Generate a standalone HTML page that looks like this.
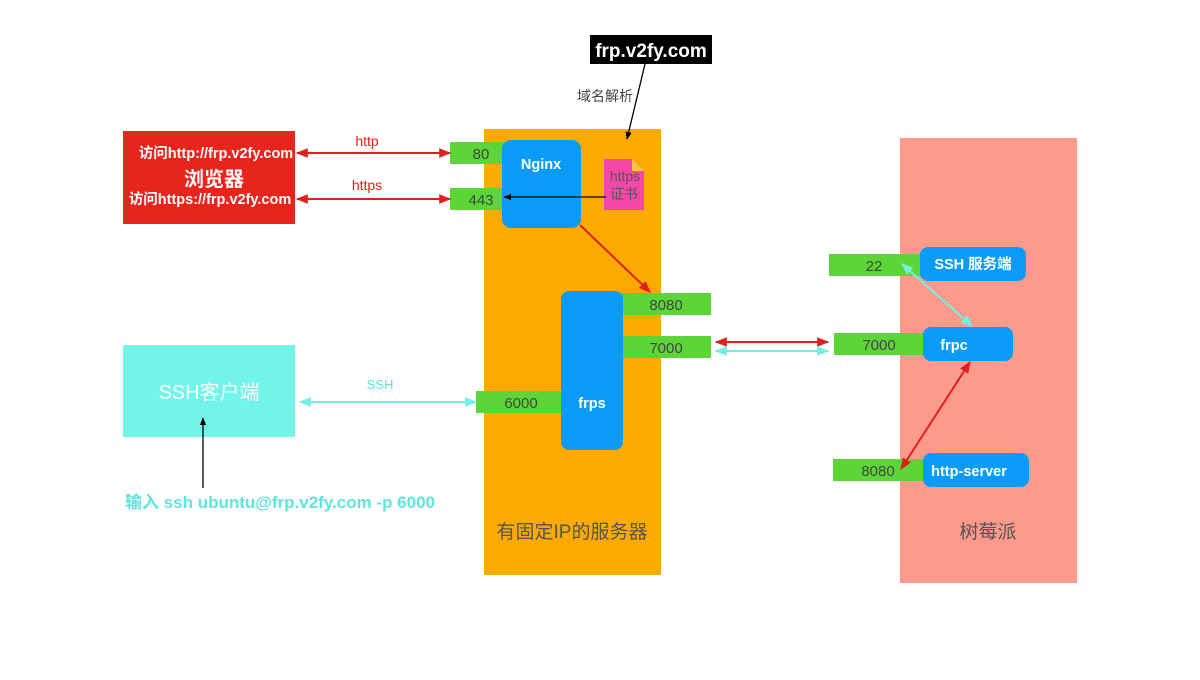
<!DOCTYPE html>
<html><head><meta charset="utf-8"><style>
body{margin:0;background:#fff;}
svg text{font-family:"Liberation Sans","Noto Sans CJK SC",sans-serif;}
</style></head><body>
<svg width="1200" height="675" viewBox="0 0 1200 675" xmlns="http://www.w3.org/2000/svg">
<defs>
<marker id="ar" viewBox="0 0 10 10" refX="9" refY="5" markerWidth="6" markerHeight="6" orient="auto-start-reverse"><path d="M0,1 L10,5 L0,9 z" fill="#e0201a"/></marker>
<marker id="ac" viewBox="0 0 10 10" refX="9" refY="5" markerWidth="6" markerHeight="6" orient="auto-start-reverse"><path d="M0,1 L10,5 L0,9 z" fill="#72f0e4"/></marker>
<marker id="ak" viewBox="0 0 10 10" refX="9" refY="5" markerWidth="6" markerHeight="6" orient="auto-start-reverse"><path d="M0,1 L10,5 L0,9 z" fill="#000"/></marker>
</defs>
<rect x="484" y="129" width="177" height="446" fill="#fdaa00"/>
<rect x="900" y="138" width="177" height="445" fill="#fe9a8c"/>
<text x="572" y="538" font-size="19" fill="#555" text-anchor="middle">有固定IP的服务器</text>
<text x="988" y="538" font-size="19" fill="#555" text-anchor="middle">树莓派</text>
<rect x="123" y="131" width="172" height="93" fill="#e8251c"/>
<text x="216" y="158" font-size="14.5" fill="#fff" text-anchor="middle" font-weight="bold">访问http://frp.v2fy.com</text>
<text x="214" y="186" font-size="20" fill="#fff" text-anchor="middle" font-weight="bold">浏览器</text>
<text x="210" y="204" font-size="14.5" fill="#fff" text-anchor="middle" font-weight="bold">访问https://frp.v2fy.com</text>
<rect x="123" y="345" width="172" height="92" fill="#72f5e8"/>
<text x="209" y="399" font-size="20" fill="#fff" text-anchor="middle">SSH客户端</text>
<text x="280" y="508" font-size="17" fill="#5ee6dc" text-anchor="middle" font-weight="bold">输入 ssh ubuntu@frp.v2fy.com -p 6000</text>
<line x1="203" y1="488" x2="203" y2="418" stroke="#000" stroke-width="1.3" marker-end="url(#ak)"/>
<rect x="590" y="35" width="122" height="29" fill="#000"/>
<text x="651" y="57" font-size="19" fill="#fff" text-anchor="middle" font-weight="bold">frp.v2fy.com</text>
<text x="605" y="101" font-size="14" fill="#444" text-anchor="middle">域名解析</text>
<line x1="645" y1="64" x2="627" y2="139" stroke="#000" stroke-width="1.3" marker-end="url(#ak)"/>
<g fill="#5cd637">
<rect x="450" y="142" width="55" height="22"/>
<rect x="450" y="188" width="55" height="22"/>
<rect x="621" y="293" width="90" height="22"/>
<rect x="621" y="336" width="90" height="22"/>
<rect x="476" y="391" width="90" height="22"/>
<rect x="829" y="254" width="95" height="22"/>
<rect x="834" y="333" width="95" height="22"/>
<rect x="833" y="459" width="95" height="22"/>
</g>
<g font-size="15" fill="#444" text-anchor="middle">
<text x="481" y="159">80</text>
<text x="481" y="205">443</text>
<text x="666" y="310">8080</text>
<text x="666" y="353">7000</text>
<text x="521" y="408">6000</text>
<text x="874" y="271">22</text>
<text x="879" y="350">7000</text>
<text x="878" y="476">8080</text>
</g>
<g fill="#0a9bf7">
<rect x="502" y="140" width="79" height="88" rx="9"/>
<rect x="561" y="291" width="62" height="159" rx="8"/>
<rect x="920" y="247" width="106" height="34" rx="8"/>
<rect x="923" y="327" width="90" height="34" rx="8"/>
<rect x="923" y="453" width="106" height="34" rx="8"/>
</g>
<g font-size="14.5" fill="#fff" text-anchor="middle" font-weight="bold">
<text x="541" y="169">Nginx</text>
<text x="592" y="408">frps</text>
<text x="973" y="269">SSH 服务端</text>
<text x="954" y="350">frpc</text>
<text x="969" y="476">http-server</text>
</g>
<path d="M604,159 L632,159 L644,171 L644,210 L604,210 z" fill="#f448a8"/>
<path d="M632,159 L644,171 L632,171 z" fill="#f5c842"/>
<text x="625" y="181" font-size="14" fill="#555" text-anchor="middle">https</text>
<text x="624" y="199" font-size="14" fill="#555" text-anchor="middle">证书</text>
<line x1="606" y1="197" x2="504" y2="197" stroke="#000" stroke-width="1.3" marker-end="url(#ak)"/>
<g stroke-width="2" fill="none">
<line x1="297" y1="153" x2="450" y2="153" stroke="#e0201a" marker-start="url(#ar)" marker-end="url(#ar)"/>
<line x1="297" y1="199" x2="450" y2="199" stroke="#e0201a" marker-start="url(#ar)" marker-end="url(#ar)"/>
<line x1="580" y1="225" x2="650" y2="292" stroke="#e0201a" marker-end="url(#ar)"/>
<line x1="716" y1="342" x2="828" y2="342" stroke="#e0201a" marker-start="url(#ar)" marker-end="url(#ar)"/>
<line x1="716" y1="351" x2="828" y2="351" stroke="#72f0e4" marker-start="url(#ac)" marker-end="url(#ac)"/>
<line x1="300" y1="402" x2="476" y2="402" stroke="#72f0e4" marker-start="url(#ac)" marker-end="url(#ac)"/>
<line x1="902" y1="264" x2="972" y2="326" stroke="#72f0e4" marker-start="url(#ac)" marker-end="url(#ac)"/>
<line x1="970" y1="362" x2="901" y2="469" stroke="#e0201a" marker-start="url(#ar)" marker-end="url(#ar)"/>
</g>
<text x="367" y="146" font-size="14" fill="#e0201a" text-anchor="middle">http</text>
<text x="367" y="190" font-size="14" fill="#e0201a" text-anchor="middle">https</text>
<text x="380" y="389" font-size="13" fill="#5ee6dc" text-anchor="middle">SSH</text>
</svg>
</body></html>
